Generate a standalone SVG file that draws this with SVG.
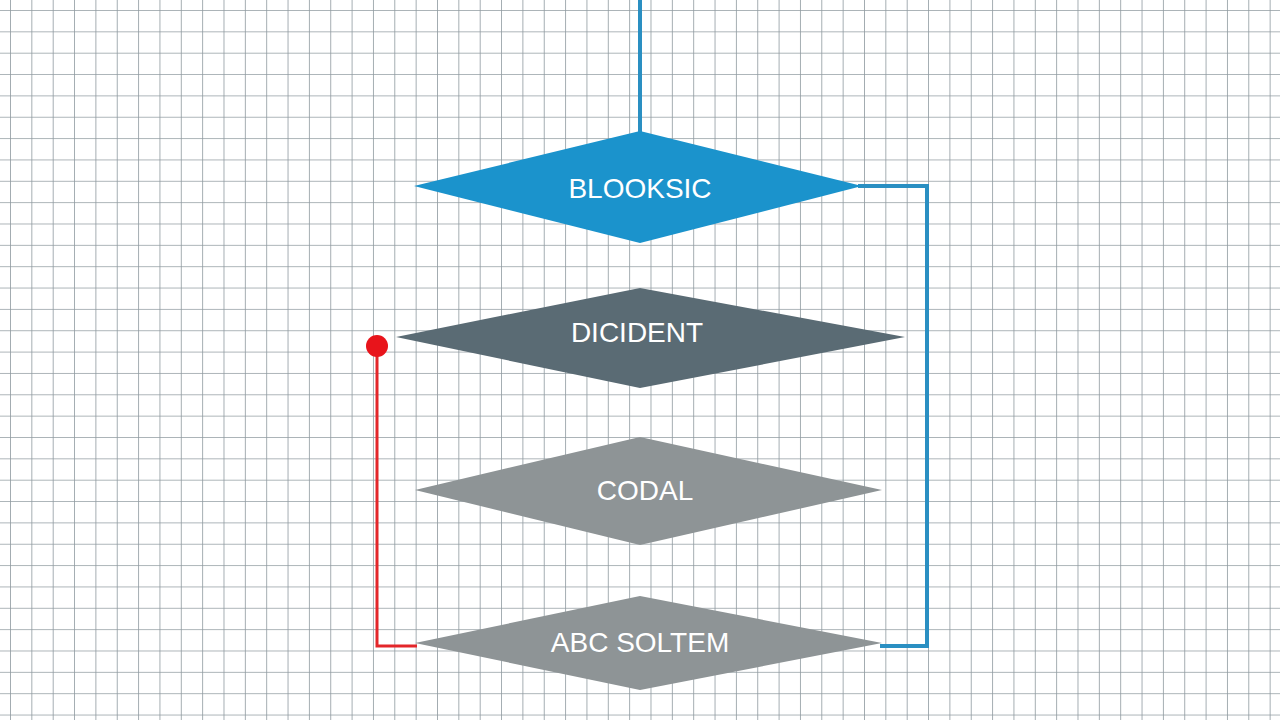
<svg xmlns="http://www.w3.org/2000/svg" width="1280" height="720" viewBox="0 0 1280 720">
<style>
.lbl{font-family:"Liberation Sans",Arial,sans-serif;font-size:28px;fill:#fff;text-anchor:middle;dominant-baseline:central}
.blue{fill:none;stroke:#2a8fc2;stroke-width:4}
.red{fill:none;stroke:#e3262a;stroke-width:3}
</style>
<defs>
<pattern id="grid" width="21.35" height="21.35" patternUnits="userSpaceOnUse" x="10" y="10">
<path d="M0 0H21.35M0 0V21.35" fill="none" stroke="#8f9aa0" stroke-width="1.6"/>
</pattern>
</defs>
<rect width="1280" height="720" fill="#fff"/>
<rect width="1280" height="720" fill="url(#grid)"/>
<g id="connectors">
<path class="blue" d="M640 0V135"/>
<path class="blue" d="M858 186H927V646H880"/>
<path class="red" d="M377 346V646H417"/>
<circle cx="377" cy="346" r="11" fill="#e8141b"/>
</g>
<g id="n1"><polygon points="414,186 640,131 862,186 640,243" fill="#1b93cc"/><text class="lbl" x="640" y="188">BLOOKSIC</text></g>
<g id="n2"><polygon points="396,337 640,288 905,337 640,388" fill="#5a6b74"/><text class="lbl" x="637" y="332">DICIDENT</text></g>
<g id="n3"><polygon points="415,490 640,437 882,490 640,545" fill="#8e9496"/><text class="lbl" x="645" y="490">CODAL</text></g>
<g id="n4"><polygon points="415,643 640,596 882,643 640,690" fill="#8e9496"/><text class="lbl" x="640" y="642">ABC SOLTEM</text></g>
</svg>
